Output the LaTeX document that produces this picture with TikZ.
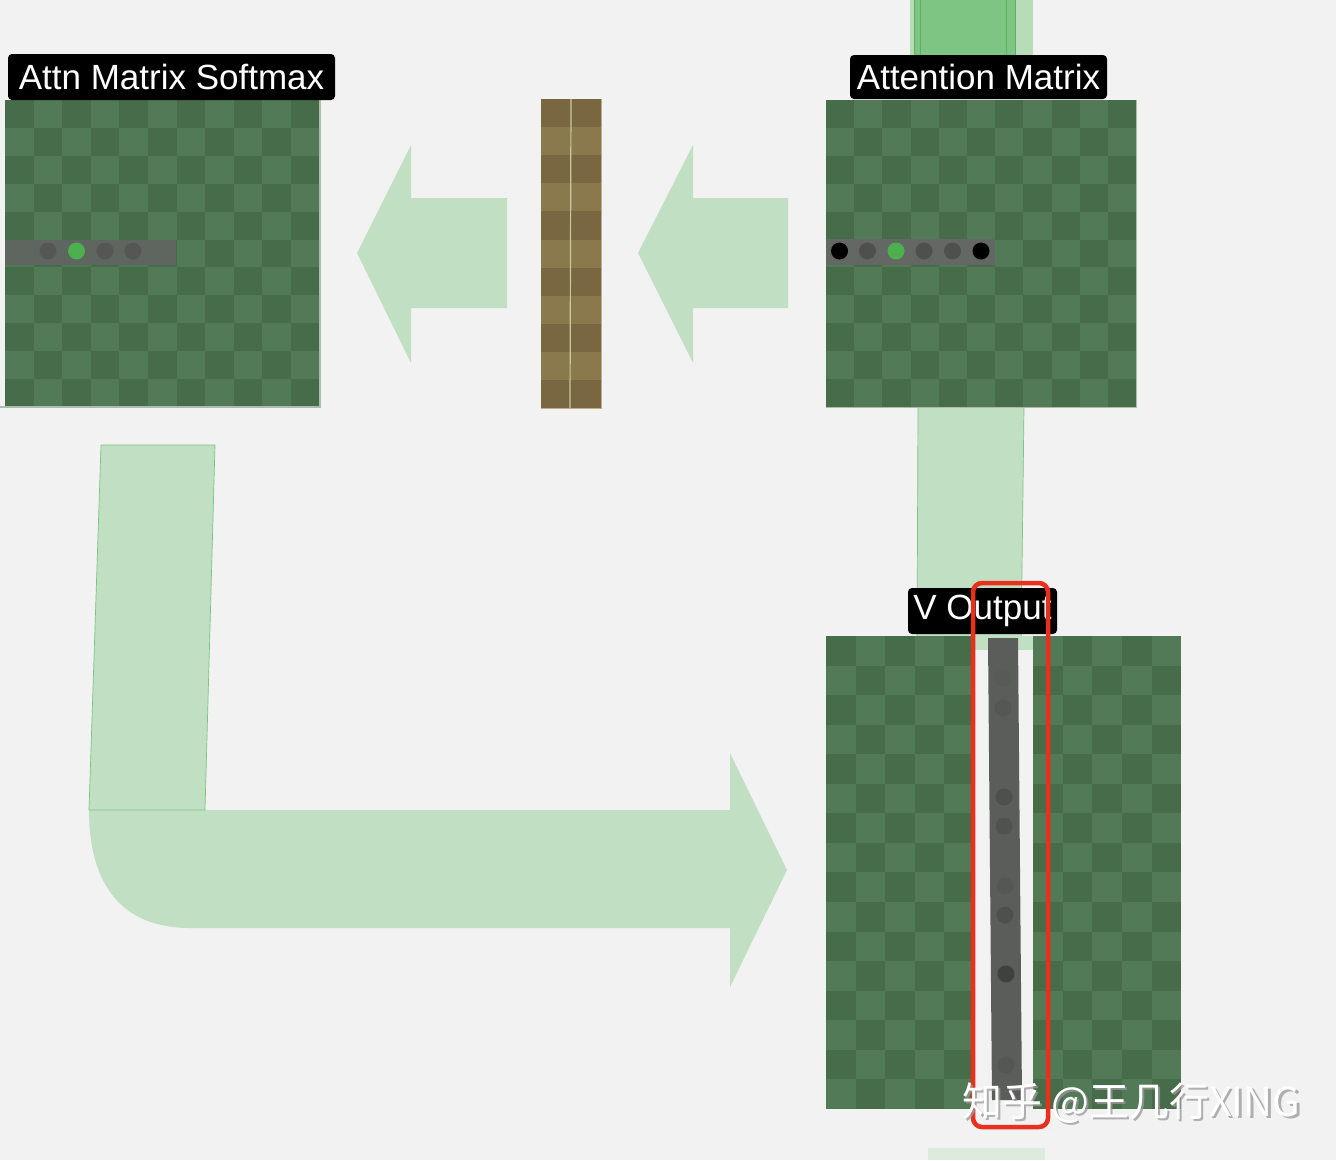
\documentclass[tikz,border=0pt]{standalone}
\usepackage{fontspec}
\setmainfont{Liberation Sans}
\newfontfamily\lblfont{Liberation Sans}
\newfontfamily\cjkfont{Noto Sans CJK SC}
\definecolor{bg}{HTML}{F2F2F2}
\definecolor{chkA}{HTML}{476C4A}
\definecolor{chkB}{HTML}{537A56}
\definecolor{arrowfill}{HTML}{C0DFC3}
\definecolor{arrowline}{HTML}{7CC47F}
\definecolor{bandmid}{HTML}{7EC483}
\definecolor{bandlight}{HTML}{B6DCB8}
\definecolor{bandline}{HTML}{5DAE63}
\definecolor{brA}{HTML}{786740}
\definecolor{brB}{HTML}{8A794C}
\definecolor{brline}{HTML}{CFC4A0}
\definecolor{rowgrey}{HTML}{646864}
\definecolor{softrow}{HTML}{5F655F}
\definecolor{dotgrey}{HTML}{4E504E}
\definecolor{dotfaint}{HTML}{545754}
\definecolor{dotgreen}{HTML}{4CAF50}
\definecolor{barsgrey}{HTML}{5B5D5B}
\definecolor{redbox}{HTML}{E8301C}
\definecolor{edgelight}{HTML}{A9BEA9}
\definecolor{faintgreen}{HTML}{DCEBDC}
\newcommand{\checkerboard}[6]{%
  \fill[chkB] (#1,#2) rectangle ({#1+#5*#3},{#2+#6*#4});
  \foreach \ci in {1,...,#5} {
    \foreach \cj in {1,...,#6} {
      \pgfmathtruncatemacro{\chkpar}{mod(\ci+\cj,2)}
      \ifnum\chkpar=0
        \fill[chkA] ({#1+(\ci-1)*#3},{#2+(\cj-1)*#4}) rectangle ++(#3,#4);
      \fi
    }
  }%
}
\begin{document}
\begin{tikzpicture}[x=1pt,y=-1pt,
  lbl/.style={fill=black, text=white, rounded corners=4pt, inner sep=0pt,
    font=\lblfont\fontsize{35}{40}\selectfont},
  bigarrow/.style={fill=arrowfill, draw=none},
  dot/.style={circle, inner sep=0pt, minimum size=17pt}]
\useasboundingbox (0,0) rectangle (1336,1160);
\fill[bg] (0,0) rectangle (1336,1160);

% green band at top
\fill[bandlight] (910,0) rectangle (1033,55);
\fill[bandmid] (914,0) rectangle (1015,55);
\draw[bandline, line width=0.8] (914,0) -- (914,55) (920,0) -- (920,55)
  (1006,0) -- (1006,55) (1015,0) -- (1015,55);

% band from attention matrix down to V output
\fill[arrowfill] (918,407) -- (1024,407) -- (1021,650) -- (917,650) -- cycle;
\draw[arrowline, line width=0.7] (918,407) -- (917,650) (1024,407) -- (1021,650);

% softmax matrix
\checkerboard{5}{100}{28.6}{27.9}{11}{11}
\draw[edgelight, line width=1.2] (320,100) -- (320,407) -- (0,407);
\fill[softrow] (5,239.5) rectangle (176,265);
\foreach \xx/\cc in {48/dotfaint,105/dotfaint,133/dotfaint}
  \fill[\cc] (\xx,251) circle (8.5);
\node[dot, fill=dotgreen] (sgreen) at (76.5,251) {};

% attention matrix
\checkerboard{826}{100}{28.2}{27.9}{11}{11}
\draw[edgelight, line width=1] (1136,100) -- (1136,407) -- (826,407);
\fill[rowgrey] (826,239) rectangle (995,265);
\node[dot, fill=black] (a1) at (839.5,251) {};
\node[dot, fill=dotgrey] (a2) at (867.5,251) {};
\node[dot, fill=dotgreen] (a3) at (896,251) {};
\node[dot, fill=dotgrey] (a4) at (924,251) {};
\node[dot, fill=dotgrey] (a5) at (952.5,251) {};
\node[dot, fill=black] (a6) at (981,251) {};

% brown column
\foreach \r in {0,...,10} {
  \pgfmathtruncatemacro{\rp}{mod(\r,2)}
  \ifnum\rp=0 \fill[brA] (541,{99+\r*28.1}) rectangle (601,{99+(\r+1)*28.1});
  \else \fill[brB] (541,{99+\r*28.1}) rectangle (601,{99+(\r+1)*28.1}); \fi
}
\draw[brline, line width=1.2] (571,99) -- (570,408);
\draw[brline!70!brB, line width=1] (601,99) -- (601,408) -- (541,408);

% left-pointing arrows
\fill[bigarrow] (507,198) -- (411,198) -- (411,145) -- (357,253) -- (411,363) -- (411,308) -- (507,308) -- cycle;
\fill[bigarrow] (788,198) -- (693,198) -- (693,145) -- (638,253) -- (693,363) -- (693,308) -- (788,308) -- cycle;

% L-shaped arrow
\fill[bigarrow] (89,810) -- (730,810) -- (730,753) -- (787,870) -- (730,987) -- (730,928)
  -- (190,928) .. controls (122,928) and (89,885) .. (89,810) -- cycle;
\filldraw[fill=arrowfill, draw=arrowline, line width=0.7] (101,445) -- (215,445) -- (205,810) -- (89,810) -- cycle;

% V output matrix
\checkerboard{826}{636}{29.6}{29.56}{12}{16}
\fill[bg] (974,650) rectangle (1033.2,1110);
\fill[arrowfill] (974,636) rectangle (1033.2,650);
\fill[barsgrey] (988,638) -- (1018,638) -- (1022,1100) -- (992,1100) -- cycle;
\foreach \yy/\xx/\cc in {678/1003/dotfaint!50!barsgrey, 708/1003/dotfaint, 797/1004/dotgrey, 826/1004/dotgrey!85!barsgrey,
  886/1005/dotfaint, 915/1005/dotgrey, 974/1006/black!75, 1065/1006/dotfaint}
  \fill[\cc] (\xx,\yy) circle (8.5);

% bottom faint band
\fill[faintgreen] (928,1148) rectangle (1045,1160);

% labels
\node[lbl, minimum width=327pt, minimum height=46pt] (lsoft) at (171.5,77) {Attn Matrix Softmax};
\node[lbl, minimum width=257pt, minimum height=44pt] (lattn) at (978.5,77) {Attention Matrix};
\node[lbl, minimum width=149pt, minimum height=46pt] (lvout) at (982.5,611) {V Output};

% red highlight
\draw[redbox, line width=4.5pt, rounded corners=9pt] (973,583) rectangle (1048,1127);

% watermark
\node[anchor=west, inner sep=0pt, text=black!40, opacity=0.75, font=\cjkfont\fontsize{40}{44}\selectfont] (wmshadow) at (964.5,1105) {知乎 @王几行XING};
\node[anchor=west, inner sep=0pt, text=white, font=\cjkfont\fontsize{40}{44}\selectfont] (wm) at (962,1103) {知乎 @王几行XING};
\end{tikzpicture}
\end{document}
